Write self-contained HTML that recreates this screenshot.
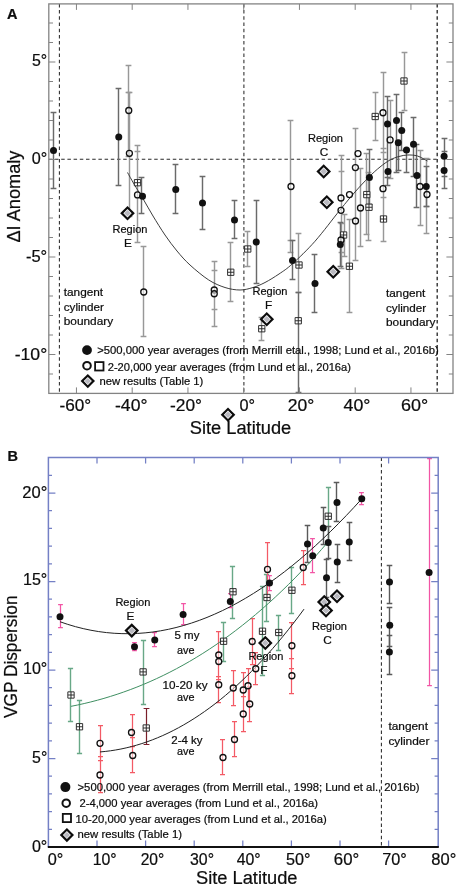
<!DOCTYPE html>
<html lang="en"><head><meta charset="utf-8"><title>Figure</title>
<style>
html,body{margin:0;padding:0;background:#fff}
svg{display:block}
text{font-family:"Liberation Sans",sans-serif;fill:#0d0d0d;stroke:#0d0d0d;stroke-width:0.22px}
</style></head><body>
<svg width="459" height="889" viewBox="0 0 459 889">
<rect width="459" height="889" fill="#fff"/>
<g id="panelA">
<path d="M59.4 3.9V393.4M243.9 3.9V393.4" stroke="#2a2a2a" stroke-width="1.05" stroke-dasharray="3.5 2.7" fill="none"/>
<path d="M437.2 3.9V393.4" stroke="#2a2a2a" stroke-width="1.35" stroke-dasharray="3.5 2.7" fill="none"/>
<path d="M48.8 159.2H437" stroke="#2a2a2a" stroke-width="1.05" stroke-dasharray="3.5 2.7" fill="none"/>
<path d="M128.5 65.5V156M125.6 65.5H131.4M125.6 156.5H131.4M125.6 92.5H131.4" stroke="#989898" stroke-width="1.45" fill="none"/>
<path d="M129.5 93V217M126.6 92.5H132.4M126.6 216.5H132.4" stroke="#989898" stroke-width="1.45" fill="none"/>
<path d="M137.5 145.6V242M134.6 145.5H140.4M134.6 242.5H140.4M134.6 151.5H140.4" stroke="#989898" stroke-width="1.45" fill="none"/>
<path d="M141.5 177.5V213.75M138.6 177.5H144.4M138.6 213.5H144.4" stroke="#6a6a6a" stroke-width="1.45" fill="none"/>
<path d="M143.5 247V336.25M140.6 246.5H146.4M140.6 336.5H146.4" stroke="#989898" stroke-width="1.45" fill="none"/>
<path d="M214.5 261.25V326.25M211.6 261.5H217.4M211.6 326.5H217.4M211.6 270.5H217.4M211.6 309.5H217.4" stroke="#989898" stroke-width="1.45" fill="none"/>
<path d="M290.5 120.5V252.5M287.6 120.5H293.4M287.6 252.5H293.4M287.6 240.5H293.4" stroke="#989898" stroke-width="1.45" fill="none"/>
<path d="M341.5 155.8V268M338.6 155.5H344.4M338.6 268.5H344.4M338.6 171.5H344.4M338.6 223.5H344.4M338.6 252.5H344.4" stroke="#989898" stroke-width="1.45" fill="none"/>
<path d="M349.5 219.6V313M346.6 219.5H352.4M346.6 312.5H352.4" stroke="#989898" stroke-width="1.45" fill="none"/>
<path d="M355.5 128.3V260.75M352.6 128.5H358.4M352.6 260.5H358.4" stroke="#989898" stroke-width="1.45" fill="none"/>
<path d="M344.5 215V256M341.6 214.5H347.4M341.6 256.5H347.4" stroke="#989898" stroke-width="1.45" fill="none"/>
<path d="M360.5 169V247M357.6 168.5H363.4M357.6 246.5H363.4" stroke="#989898" stroke-width="1.45" fill="none"/>
<path d="M366.5 153.2V235M363.6 153.5H369.4M363.6 234.5H369.4" stroke="#989898" stroke-width="1.45" fill="none"/>
<path d="M368.5 172V241M365.6 172.5H371.4M365.6 240.5H371.4" stroke="#989898" stroke-width="1.45" fill="none"/>
<path d="M383.5 73V241.25M380.6 72.5H386.4M380.6 241.5H386.4M380.6 148.5H386.4M380.6 152.5H386.4M380.6 197.5H386.4" stroke="#989898" stroke-width="1.45" fill="none"/>
<path d="M375.5 93V140M372.6 92.5H378.4M372.6 140.5H378.4" stroke="#989898" stroke-width="1.45" fill="none"/>
<path d="M390.5 100V178M387.6 100.5H393.4M387.6 178.5H393.4" stroke="#989898" stroke-width="1.45" fill="none"/>
<path d="M404.5 52V110.75M401.6 52.5H407.4M401.6 110.5H407.4" stroke="#989898" stroke-width="1.45" fill="none"/>
<path d="M420.5 150V225.75M417.6 150.5H423.4M417.6 225.5H423.4" stroke="#989898" stroke-width="1.45" fill="none"/>
<path d="M426.5 158V233.75M423.6 158.5H429.4M423.6 233.5H429.4M423.6 206.5H429.4" stroke="#989898" stroke-width="1.45" fill="none"/>
<path d="M230.5 242.5V301.75M227.6 242.5H233.4M227.6 301.5H233.4" stroke="#989898" stroke-width="1.45" fill="none"/>
<path d="M247.5 231.25V266.25M244.6 231.5H250.4M244.6 266.5H250.4" stroke="#989898" stroke-width="1.45" fill="none"/>
<path d="M261.5 317.5V340M258.6 317.5H264.4M258.6 340.5H264.4" stroke="#989898" stroke-width="1.45" fill="none"/>
<path d="M298.5 233.25V292.5M295.6 233.5H301.4M295.6 292.5H301.4" stroke="#989898" stroke-width="1.45" fill="none"/>
<path d="M298.5 292.5V393M295.6 292.5H301.4M295.6 392.5H301.4" stroke="#6a6a6a" stroke-width="1.45" fill="none"/>
<path d="M53.5 113V188M50.6 112.5H56.4M50.6 188.5H56.4" stroke="#6a6a6a" stroke-width="1.45" fill="none"/>
<path d="M118.5 88V185.75M115.6 88.5H121.4M115.6 185.5H121.4" stroke="#6a6a6a" stroke-width="1.45" fill="none"/>
<path d="M175.5 164V213.75M172.6 164.5H178.4M172.6 213.5H178.4" stroke="#6a6a6a" stroke-width="1.45" fill="none"/>
<path d="M202.5 176.25V229.5M199.6 176.5H205.4M199.6 229.5H205.4" stroke="#6a6a6a" stroke-width="1.45" fill="none"/>
<path d="M234.5 200.5V238.75M231.6 200.5H237.4M231.6 238.5H237.4" stroke="#6a6a6a" stroke-width="1.45" fill="none"/>
<path d="M256.5 200V283.75M253.6 200.5H259.4M253.6 283.5H259.4" stroke="#6a6a6a" stroke-width="1.45" fill="none"/>
<path d="M292.5 241V279.5M289.6 240.5H295.4M289.6 279.5H295.4" stroke="#6a6a6a" stroke-width="1.45" fill="none"/>
<path d="M314.5 254.5V312M311.6 254.5H317.4M311.6 312.5H317.4" stroke="#6a6a6a" stroke-width="1.45" fill="none"/>
<path d="M340.5 222V266M337.6 222.5H343.4M337.6 266.5H343.4" stroke="#6a6a6a" stroke-width="1.45" fill="none"/>
<path d="M369.5 149.7V205M366.6 149.5H372.4M366.6 204.5H372.4" stroke="#6a6a6a" stroke-width="1.45" fill="none"/>
<path d="M387.5 96.5V185.4M384.6 96.5H390.4M384.6 185.5H390.4M384.6 177.5H390.4" stroke="#6a6a6a" stroke-width="1.45" fill="none"/>
<path d="M396.5 94.5V172M393.6 94.5H399.4M393.6 172.5H399.4" stroke="#6a6a6a" stroke-width="1.45" fill="none"/>
<path d="M401.5 112V150M398.6 112.5H404.4M398.6 150.5H404.4" stroke="#6a6a6a" stroke-width="1.45" fill="none"/>
<path d="M398.5 140V170M395.6 140.5H401.4M395.6 170.5H401.4" stroke="#6a6a6a" stroke-width="1.45" fill="none"/>
<path d="M406.5 150V173M403.6 150.5H409.4M403.6 172.5H409.4" stroke="#6a6a6a" stroke-width="1.45" fill="none"/>
<path d="M413.5 117.5V176M410.6 117.5H416.4M410.6 176.5H416.4" stroke="#6a6a6a" stroke-width="1.45" fill="none"/>
<path d="M416.5 144V207.5M413.6 144.5H419.4M413.6 207.5H419.4" stroke="#6a6a6a" stroke-width="1.45" fill="none"/>
<path d="M426.5 166V207M423.6 166.5H429.4M423.6 206.5H429.4" stroke="#6a6a6a" stroke-width="1.45" fill="none"/>
<path d="M444.5 138.3V188.9M441.6 138.5H447.4M441.6 188.5H447.4M441.6 151.5H447.4M441.6 176.5H447.4" stroke="#6a6a6a" stroke-width="1.45" fill="none"/>
<path d="M127.5 172.5C128.58 174.42 131.42 179.62 134 184C136.58 188.38 139.83 193.42 143 198.75C146.17 204.08 149.33 209.96 153 216C156.67 222.04 161 229.17 165 235C169 240.83 172.83 246 177 251C181.17 256 184.71 260.17 190 265C195.29 269.83 202.92 276.25 208.75 280C214.58 283.75 219.79 285.83 225 287.5C230.21 289.17 235.33 290 240 290C244.67 290 248.83 288.75 253 287.5C257.17 286.25 260.67 284.75 265 282.5C269.33 280.25 274.42 277.12 279 274C283.58 270.88 286.5 269.21 292.5 263.75C298.5 258.29 307.08 250.21 315 241.25C322.92 232.29 333.33 218.21 340 210C346.67 201.79 350.17 197.5 355 192C359.83 186.5 364.83 181.17 369 177C373.17 172.83 376.5 169.83 380 167C383.5 164.17 386.83 161.75 390 160C393.17 158.25 396.08 157.33 399 156.5C401.92 155.67 404.42 155.08 407.5 155C410.58 154.92 414.17 155 417.5 156C420.83 157 425.83 160.17 427.5 161" fill="none" stroke="#333" stroke-width="0.95"/>
<path d="M134.35 179.55H140.65V185.85H134.35ZM137.5 179.55V185.85M134.35 182.7H140.65" fill="#fff" fill-opacity="0.85" stroke="#262626" stroke-width="0.95"/>
<path d="M227.6 269.1H233.9V275.4H227.6ZM230.75 269.1V275.4M227.6 272.25H233.9" fill="#fff" fill-opacity="0.85" stroke="#262626" stroke-width="0.95"/>
<path d="M244.6 245.85H250.9V252.15H244.6ZM247.75 245.85V252.15M244.6 249H250.9" fill="#fff" fill-opacity="0.85" stroke="#262626" stroke-width="0.95"/>
<path d="M258.6 325.6H264.9V331.9H258.6ZM261.75 325.6V331.9M258.6 328.75H264.9" fill="#fff" fill-opacity="0.85" stroke="#262626" stroke-width="0.95"/>
<path d="M295.85 261.85H302.15V268.15H295.85ZM299 261.85V268.15M295.85 265H302.15" fill="#fff" fill-opacity="0.85" stroke="#262626" stroke-width="0.95"/>
<path d="M295.1 317.6H301.4V323.9H295.1ZM298.25 317.6V323.9M295.1 320.75H301.4" fill="#fff" fill-opacity="0.85" stroke="#262626" stroke-width="0.95"/>
<path d="M340.45 231.85H346.75V238.15H340.45ZM343.6 231.85V238.15M340.45 235H346.75" fill="#fff" fill-opacity="0.85" stroke="#262626" stroke-width="0.95"/>
<path d="M346.25 263.1H352.55V269.4H346.25ZM349.4 263.1V269.4M346.25 266.25H352.55" fill="#fff" fill-opacity="0.85" stroke="#262626" stroke-width="0.95"/>
<path d="M363.65 191.45H369.95V197.75H363.65ZM366.8 191.45V197.75M363.65 194.6H369.95" fill="#fff" fill-opacity="0.85" stroke="#262626" stroke-width="0.95"/>
<path d="M365.85 204.1H372.15V210.4H365.85ZM369 204.1V210.4M365.85 207.25H372.15" fill="#fff" fill-opacity="0.85" stroke="#262626" stroke-width="0.95"/>
<path d="M380.35 215.85H386.65V222.15H380.35ZM383.5 215.85V222.15M380.35 219H386.65" fill="#fff" fill-opacity="0.85" stroke="#262626" stroke-width="0.95"/>
<path d="M372.05 113.35H378.35V119.65H372.05ZM375.2 113.35V119.65M372.05 116.5H378.35" fill="#fff" fill-opacity="0.85" stroke="#262626" stroke-width="0.95"/>
<path d="M400.85 77.85H407.15V84.15H400.85ZM404 77.85V84.15M400.85 81H407.15" fill="#fff" fill-opacity="0.85" stroke="#262626" stroke-width="0.95"/>
<circle cx="128.75" cy="110.5" r="3.0" fill="#fff" fill-opacity="0.55" stroke="#111" stroke-width="1.3"/>
<circle cx="129.4" cy="153.3" r="3.0" fill="#fff" fill-opacity="0.55" stroke="#111" stroke-width="1.3"/>
<circle cx="137.5" cy="194.9" r="3.0" fill="#fff" fill-opacity="0.55" stroke="#111" stroke-width="1.3"/>
<circle cx="143.75" cy="292" r="3.0" fill="#fff" fill-opacity="0.55" stroke="#111" stroke-width="1.3"/>
<circle cx="214.25" cy="290" r="3.0" fill="#fff" fill-opacity="0.55" stroke="#111" stroke-width="1.3"/>
<circle cx="214.25" cy="293.75" r="3.0" fill="#fff" fill-opacity="0.55" stroke="#111" stroke-width="1.3"/>
<circle cx="291" cy="186.5" r="3.0" fill="#fff" fill-opacity="0.55" stroke="#111" stroke-width="1.3"/>
<circle cx="341" cy="198" r="3.0" fill="#fff" fill-opacity="0.55" stroke="#111" stroke-width="1.3"/>
<circle cx="341" cy="210.3" r="3.0" fill="#fff" fill-opacity="0.55" stroke="#111" stroke-width="1.3"/>
<circle cx="341" cy="240" r="3.0" fill="#fff" fill-opacity="0.55" stroke="#111" stroke-width="1.3"/>
<circle cx="349.5" cy="194.6" r="3.0" fill="#fff" fill-opacity="0.55" stroke="#111" stroke-width="1.3"/>
<circle cx="355.4" cy="167.6" r="3.0" fill="#fff" fill-opacity="0.55" stroke="#111" stroke-width="1.3"/>
<circle cx="355.5" cy="221" r="3.0" fill="#fff" fill-opacity="0.55" stroke="#111" stroke-width="1.3"/>
<circle cx="358" cy="153.6" r="3.0" fill="#fff" fill-opacity="0.55" stroke="#111" stroke-width="1.3"/>
<circle cx="360.5" cy="208" r="3.0" fill="#fff" fill-opacity="0.55" stroke="#111" stroke-width="1.3"/>
<circle cx="383" cy="112.75" r="3.0" fill="#fff" fill-opacity="0.55" stroke="#111" stroke-width="1.3"/>
<circle cx="383" cy="188.7" r="3.0" fill="#fff" fill-opacity="0.55" stroke="#111" stroke-width="1.3"/>
<circle cx="390.1" cy="139.9" r="3.0" fill="#fff" fill-opacity="0.55" stroke="#111" stroke-width="1.3"/>
<circle cx="420" cy="186.5" r="3.0" fill="#fff" fill-opacity="0.55" stroke="#111" stroke-width="1.3"/>
<circle cx="427" cy="194.5" r="3.0" fill="#fff" fill-opacity="0.55" stroke="#111" stroke-width="1.3"/>
<circle cx="53.5" cy="150.5" r="3.5" fill="#111"/>
<circle cx="118.75" cy="137" r="3.5" fill="#111"/>
<circle cx="142.5" cy="196.25" r="3.5" fill="#111"/>
<circle cx="175.75" cy="189.5" r="3.5" fill="#111"/>
<circle cx="202.5" cy="203" r="3.5" fill="#111"/>
<circle cx="234.5" cy="220" r="3.5" fill="#111"/>
<circle cx="256.25" cy="242" r="3.5" fill="#111"/>
<circle cx="292.5" cy="260.5" r="3.5" fill="#111"/>
<circle cx="315" cy="283.5" r="3.5" fill="#111"/>
<circle cx="340.3" cy="244.5" r="3.5" fill="#111"/>
<circle cx="369.4" cy="177.4" r="3.5" fill="#111"/>
<circle cx="388" cy="171.6" r="3.5" fill="#111"/>
<circle cx="387.5" cy="124" r="3.5" fill="#111"/>
<circle cx="396.5" cy="120.6" r="3.5" fill="#111"/>
<circle cx="401.75" cy="130.5" r="3.5" fill="#111"/>
<circle cx="398.25" cy="142.75" r="3.5" fill="#111"/>
<circle cx="406.5" cy="150" r="3.5" fill="#111"/>
<circle cx="413.5" cy="144.25" r="3.5" fill="#111"/>
<circle cx="417" cy="175.5" r="3.5" fill="#111"/>
<circle cx="426.25" cy="186.5" r="3.5" fill="#111"/>
<circle cx="444.1" cy="156.3" r="3.5" fill="#111"/>
<circle cx="444.1" cy="170.5" r="3.5" fill="#111"/>
<path d="M127.5 205.95L134.8 213.25L127.5 220.55L120.2 213.25Z" fill="#0c0c0c"/><path d="M127.5 209.05L131.7 213.25L127.5 217.45L123.3 213.25Z" fill="#fff"/><path d="M127.5 209.95L130.8 213.25L127.5 216.55L124.2 213.25Z" fill="#b9b9c0"/>
<path d="M266.75 311.95L274.05 319.25L266.75 326.55L259.45 319.25Z" fill="#0c0c0c"/><path d="M266.75 315.05L270.95 319.25L266.75 323.45L262.55 319.25Z" fill="#fff"/><path d="M266.75 315.95L270.05 319.25L266.75 322.55L263.45 319.25Z" fill="#b9b9c0"/>
<path d="M323.7 164.2L331 171.5L323.7 178.8L316.4 171.5Z" fill="#0c0c0c"/><path d="M323.7 167.3L327.9 171.5L323.7 175.7L319.5 171.5Z" fill="#fff"/><path d="M323.7 168.2L327 171.5L323.7 174.8L320.4 171.5Z" fill="#b9b9c0"/>
<path d="M326.8 194.9L334.1 202.2L326.8 209.5L319.5 202.2Z" fill="#0c0c0c"/><path d="M326.8 198L331 202.2L326.8 206.4L322.6 202.2Z" fill="#fff"/><path d="M326.8 198.9L330.1 202.2L326.8 205.5L323.5 202.2Z" fill="#b9b9c0"/>
<path d="M333.25 264.45L340.55 271.75L333.25 279.05L325.95 271.75Z" fill="#0c0c0c"/><path d="M333.25 267.55L337.45 271.75L333.25 275.95L329.05 271.75Z" fill="#fff"/><path d="M333.25 268.45L336.55 271.75L333.25 275.05L329.95 271.75Z" fill="#b9b9c0"/>
<path d="M228 407.45L235.3 414.75L228 422.05L220.7 414.75Z" fill="#0c0c0c"/><path d="M228 410.55L232.2 414.75L228 418.95L223.8 414.75Z" fill="#fff"/><path d="M228 411.45L231.3 414.75L228 418.05L224.7 414.75Z" fill="#b9b9c0"/>
<path d="M48.8 374h4.2M453.0 374h-4.2M48.8 354.5h6.6M453.0 354.5h-6.6M48.8 335h4.2M453.0 335h-4.2M48.8 315.5h4.2M453.0 315.5h-4.2M48.8 296h4.2M453.0 296h-4.2M48.8 276.5h4.2M453.0 276.5h-4.2M48.8 257h6.6M453.0 257h-6.6M48.8 237.5h4.2M453.0 237.5h-4.2M48.8 218h4.2M453.0 218h-4.2M48.8 198.5h4.2M453.0 198.5h-4.2M48.8 179h4.2M453.0 179h-4.2M48.8 159.5h6.6M453.0 159.5h-6.6M48.8 140h4.2M453.0 140h-4.2M48.8 120.5h4.2M453.0 120.5h-4.2M48.8 101h4.2M453.0 101h-4.2M48.8 81.5h4.2M453.0 81.5h-4.2M48.8 62h6.6M453.0 62h-6.6M48.8 42.5h4.2M453.0 42.5h-4.2M48.8 23h4.2M453.0 23h-4.2M76.45 3.9v6M76.45 393.4v-6M132.2 3.9v6M132.2 393.4v-6M187.95 3.9v6M187.95 393.4v-6M243.7 3.9v6M243.7 393.4v-6M299.45 3.9v6M299.45 393.4v-6M355.2 3.9v6M355.2 393.4v-6M410.95 3.9v6M410.95 393.4v-6" stroke="#838383" stroke-width="1" fill="none"/>
<rect x="48.8" y="3.9" width="404.2" height="389.5" fill="none" stroke="#838383" stroke-width="1.3"/>
<text x="7" y="18.8" font-size="14.5" font-weight="bold">A</text>
<text x="47.2" y="66.4" font-size="17" text-anchor="end" textLength="15.2" lengthAdjust="spacingAndGlyphs">5°</text>
<text x="47.2" y="164.2" font-size="17" text-anchor="end" textLength="15.5" lengthAdjust="spacingAndGlyphs">0°</text>
<text x="47.2" y="262.3" font-size="17" text-anchor="end" textLength="21.3" lengthAdjust="spacingAndGlyphs">-5°</text>
<text x="47.2" y="360" font-size="17" text-anchor="end" textLength="32.5" lengthAdjust="spacingAndGlyphs">-10°</text>
<text x="59.5" y="410.6" font-size="17" textLength="31.75" lengthAdjust="spacingAndGlyphs">-60°</text>
<text x="115" y="410.6" font-size="17" textLength="32.5" lengthAdjust="spacingAndGlyphs">-40°</text>
<text x="170" y="410.6" font-size="17" textLength="32" lengthAdjust="spacingAndGlyphs">-20°</text>
<text x="239.4" y="410.6" font-size="17" textLength="15.6" lengthAdjust="spacingAndGlyphs">0°</text>
<text x="287.8" y="410.6" font-size="17" textLength="26.5" lengthAdjust="spacingAndGlyphs">20°</text>
<text x="343.6" y="410.6" font-size="17" textLength="26.9" lengthAdjust="spacingAndGlyphs">40°</text>
<text x="401" y="410.6" font-size="17" textLength="27.2" lengthAdjust="spacingAndGlyphs">60°</text>
<text x="189.8" y="433.7" font-size="18" textLength="101.4" lengthAdjust="spacingAndGlyphs">Site Latitude</text>
<text transform="translate(19.5 242.6) rotate(-90)" font-size="18" textLength="92" lengthAdjust="spacingAndGlyphs">ΔI Anomaly</text>
<text x="112.5" y="232.5" font-size="11.8" textLength="35" lengthAdjust="spacingAndGlyphs">Region</text>
<text x="128" y="246.8" font-size="11.8" text-anchor="middle">E</text>
<text x="308" y="141.75" font-size="11.8" textLength="35" lengthAdjust="spacingAndGlyphs">Region</text>
<text x="324" y="156.05" font-size="11.8" text-anchor="middle">C</text>
<text x="252.5" y="294.5" font-size="11.8" textLength="35" lengthAdjust="spacingAndGlyphs">Region</text>
<text x="268.5" y="308.8" font-size="11.8" text-anchor="middle">F</text>
<text x="63.75" y="296.3" font-size="11.8" textLength="39.4" lengthAdjust="spacingAndGlyphs">tangent</text>
<text x="386" y="297.4" font-size="11.8" textLength="39.4" lengthAdjust="spacingAndGlyphs">tangent</text>
<text x="63.75" y="310.65" font-size="11.8" textLength="40.2" lengthAdjust="spacingAndGlyphs">cylinder</text>
<text x="386" y="311.6" font-size="11.8" textLength="40.2" lengthAdjust="spacingAndGlyphs">cylinder</text>
<text x="63.75" y="325" font-size="11.8" textLength="49.4" lengthAdjust="spacingAndGlyphs">boundary</text>
<text x="386" y="325.8" font-size="11.8" textLength="49.4" lengthAdjust="spacingAndGlyphs">boundary</text>
<circle cx="87" cy="350.1" r="4.9" fill="#111"/>
<circle cx="87" cy="365.7" r="3.8" fill="#fff" fill-opacity="1" stroke="#111" stroke-width="2.0"/>
<rect x="95.1" y="362.1" width="8.4" height="8.4" fill="#fff" stroke="#111" stroke-width="1.8"/>
<path d="M87.8 373.9L95 381.1L87.8 388.3L80.6 381.1Z" fill="#0c0c0c"/><path d="M87.8 377L91.9 381.1L87.8 385.2L83.7 381.1Z" fill="#fff"/><path d="M87.8 377.9L91 381.1L87.8 384.3L84.6 381.1Z" fill="#b9b9c0"/>
<text x="97.2" y="354.3" font-size="11.5" textLength="341.5" lengthAdjust="spacingAndGlyphs">&gt;500,000 year averages (from Merrill etal., 1998; Lund et al., 2016b)</text>
<text x="107.7" y="370.6" font-size="11.5" textLength="243.3" lengthAdjust="spacingAndGlyphs">2-20,000 year averages (from Lund et al., 2016a)</text>
<text x="99.5" y="385" font-size="11.5" textLength="103.8" lengthAdjust="spacingAndGlyphs">new results (Table 1)</text>
</g>
<g id="panelB">
<path d="M381.4 457.6V847.0" stroke="#2a2a2a" stroke-width="1.05" stroke-dasharray="3.5 2.7" fill="none"/>
<path d="M70.5 668.5V721.25M67.9 668.5H73.1M67.9 721.5H73.1" stroke="#68a887" stroke-width="1.4" fill="none"/>
<path d="M79.5 700V753.75M76.9 700.5H82.1M76.9 753.5H82.1" stroke="#68a887" stroke-width="1.4" fill="none"/>
<path d="M143.5 640V704M140.9 640.5H146.1M140.9 704.5H146.1" stroke="#68a887" stroke-width="1.4" fill="none"/>
<path d="M223.5 622.3V661.25M220.9 622.5H226.1M220.9 661.5H226.1" stroke="#68a887" stroke-width="1.4" fill="none"/>
<path d="M232.5 566V618.75M229.9 566.5H235.1M229.9 618.5H235.1" stroke="#68a887" stroke-width="1.4" fill="none"/>
<path d="M262.5 586.25V675.5M259.9 586.5H265.1M259.9 675.5H265.1" stroke="#68a887" stroke-width="1.4" fill="none"/>
<path d="M266.5 574V621.25M263.9 574.5H269.1M263.9 621.5H269.1" stroke="#68a887" stroke-width="1.4" fill="none"/>
<path d="M278.5 615.5V650M275.9 615.5H281.1M275.9 650.5H281.1" stroke="#68a887" stroke-width="1.4" fill="none"/>
<path d="M291.5 567.75V613.5M288.9 567.5H294.1M288.9 613.5H294.1" stroke="#68a887" stroke-width="1.4" fill="none"/>
<path d="M328.5 487.5V545M325.9 487.5H331.1M325.9 544.5H331.1" stroke="#68a887" stroke-width="1.4" fill="none"/>
<path d="M146.5 708.75V744.75M143.6 708.5H149.4M143.6 744.5H149.4" stroke="#7a1f2a" stroke-width="1.2" fill="none"/>
<path d="M100.5 725.5V793M98 725.5H103M98 792.5H103M98 756.5H103M98 760.5H103" stroke="#f35a65" stroke-width="1.25" fill="none"/>
<path d="M132.5 714.5V773M130 714.5H135M130 772.5H135M130 737.5H135M130 746.5H135" stroke="#f35a65" stroke-width="1.25" fill="none"/>
<path d="M218.5 631.25V702M216 631.5H221M216 702.5H221M216 676.5H221M216 679.5H221" stroke="#f35a65" stroke-width="1.25" fill="none"/>
<path d="M222.5 739.4V775M220 739.5H225M220 774.5H225" stroke="#f35a65" stroke-width="1.25" fill="none"/>
<path d="M233.5 670V705.25M231 670.5H236M231 705.5H236" stroke="#f35a65" stroke-width="1.25" fill="none"/>
<path d="M234.5 721.25V757M232 721.5H237M232 756.5H237" stroke="#f35a65" stroke-width="1.25" fill="none"/>
<path d="M243.5 672.5V731.25M241 672.5H246M241 731.5H246M241 696.5H246" stroke="#f35a65" stroke-width="1.25" fill="none"/>
<path d="M248.5 668V704M246 668.5H251M246 704.5H251" stroke="#f35a65" stroke-width="1.25" fill="none"/>
<path d="M249.5 686V721.25M247 686.5H252M247 721.5H252" stroke="#f35a65" stroke-width="1.25" fill="none"/>
<path d="M252.5 618.75V664M250 618.5H255M250 664.5H255" stroke="#f35a65" stroke-width="1.25" fill="none"/>
<path d="M255.5 652V685M253 652.5H258M253 684.5H258" stroke="#f35a65" stroke-width="1.25" fill="none"/>
<path d="M267.5 542.3V597M265 542.5H270M265 596.5H270" stroke="#f35a65" stroke-width="1.25" fill="none"/>
<path d="M291.5 622V693.75M289 622.5H294M289 693.5H294M289 658.5H294M289 668.5H294" stroke="#f35a65" stroke-width="1.25" fill="none"/>
<path d="M303.5 550V585M301 550.5H306M301 584.5H306" stroke="#f35a65" stroke-width="1.25" fill="none"/>
<path d="M60.5 605V627.5M58.1 604.5H62.9M58.1 627.5H62.9" stroke="#f255a5" stroke-width="1.25" fill="none"/>
<path d="M134.5 642.5V650.75M132.1 642.5H136.9M132.1 650.5H136.9" stroke="#f255a5" stroke-width="1.25" fill="none"/>
<path d="M154.5 633V646.75M152.1 632.5H156.9M152.1 646.5H156.9" stroke="#f255a5" stroke-width="1.25" fill="none"/>
<path d="M183.5 603.75V624.75M181.1 603.5H185.9M181.1 624.5H185.9" stroke="#f255a5" stroke-width="1.25" fill="none"/>
<path d="M230.5 593.75V607.5M228.1 593.5H232.9M228.1 607.5H232.9" stroke="#f255a5" stroke-width="1.25" fill="none"/>
<path d="M269.5 575.75V590M267.1 575.5H271.9M267.1 590.5H271.9" stroke="#f255a5" stroke-width="1.25" fill="none"/>
<path d="M312.5 538V572.5M310.1 538.5H314.9M310.1 572.5H314.9" stroke="#f255a5" stroke-width="1.25" fill="none"/>
<path d="M361.5 492V505M359.1 492.5H363.9M359.1 504.5H363.9" stroke="#f255a5" stroke-width="1.25" fill="none"/>
<path d="M429.5 458.6V685.4M427.1 458.5H431.9M427.1 685.5H431.9" stroke="#f255a5" stroke-width="1.25" fill="none"/>
<path d="M307.5 525.3V563M304.7 525.5H310.3M304.7 562.5H310.3" stroke="#5a5a5a" stroke-width="1.4" fill="none"/>
<path d="M323.5 507.5V545M320.7 507.5H326.3M320.7 544.5H326.3" stroke="#5a5a5a" stroke-width="1.4" fill="none"/>
<path d="M328.5 527V558.75M325.7 526.5H331.3M325.7 558.5H331.3" stroke="#5a5a5a" stroke-width="1.4" fill="none"/>
<path d="M336.5 482.5V521.25M333.7 482.5H339.3M333.7 521.5H339.3" stroke="#5a5a5a" stroke-width="1.4" fill="none"/>
<path d="M337.5 545V583M334.7 544.5H340.3M334.7 582.5H340.3" stroke="#5a5a5a" stroke-width="1.4" fill="none"/>
<path d="M326.5 559.5V597.5M323.7 559.5H329.3M323.7 597.5H329.3" stroke="#5a5a5a" stroke-width="1.4" fill="none"/>
<path d="M349.5 523V560.5M346.7 522.5H352.3M346.7 560.5H352.3" stroke="#5a5a5a" stroke-width="1.4" fill="none"/>
<path d="M389.5 565.75V603.75M386.7 565.5H392.3M386.7 603.5H392.3" stroke="#5a5a5a" stroke-width="1.4" fill="none"/>
<path d="M389.5 607.6V646M386.7 607.5H392.3M386.7 646.5H392.3" stroke="#5a5a5a" stroke-width="1.4" fill="none"/>
<path d="M389.5 635.6V674.3M386.7 635.5H392.3M386.7 674.5H392.3" stroke="#5a5a5a" stroke-width="1.4" fill="none"/>
<path d="M60 621.75L67.74 624.37L75.47 626.66L83.21 628.62L90.95 630.26L98.69 631.58L106.42 632.59L114.16 633.27L121.9 633.64L129.63 633.69L137.37 633.44L145.11 632.87L152.85 632L160.58 630.82L168.32 629.33L176.06 627.54L183.79 625.45L191.53 623.07L199.27 620.39L207.01 617.41L214.74 614.14L222.48 610.58L230.22 606.72L237.96 602.59L245.69 598.16L253.43 593.46L261.17 588.47L268.9 583.2L276.64 577.65L284.38 571.83L292.12 565.74L299.85 559.37L307.59 552.73L315.33 545.82L323.06 538.65L330.8 531.21L338.54 523.51L346.28 515.55L354.01 507.33L361.75 498.85" fill="none" stroke="#222" stroke-width="1.0"/>
<path d="M71 706.34L77.59 705L84.18 703.54L90.77 701.95L97.36 700.23L103.95 698.38L110.54 696.39L117.13 694.27L123.72 692.01L130.31 689.62L136.9 687.08L143.49 684.4L150.08 681.57L156.67 678.59L163.26 675.46L169.85 672.18L176.44 668.74L183.03 665.15L189.62 661.4L196.21 657.49L202.79 653.41L209.38 649.16L215.97 644.75L222.56 640.17L229.15 635.42L235.74 630.49L242.33 625.38L248.92 620.1L255.51 614.63L262.1 608.99L268.69 603.15L275.28 597.13L281.87 590.92L288.46 584.51L295.05 577.92L301.64 571.12L308.23 564.13L314.82 556.94L321.41 549.54L328 541.94" fill="none" stroke="#3f8f62" stroke-width="1.0"/>
<path d="M100 751.95L105.23 751.45L110.46 750.79L115.69 749.98L120.92 749.02L126.15 747.89L131.38 746.61L136.62 745.17L141.85 743.57L147.08 741.8L152.31 739.88L157.54 737.79L162.77 735.54L168 733.12L173.23 730.54L178.46 727.78L183.69 724.87L188.92 721.78L194.15 718.52L199.38 715.09L204.62 711.49L209.85 707.72L215.08 703.77L220.31 699.65L225.54 695.35L230.77 690.87L236 686.22L241.23 681.39L246.46 676.38L251.69 671.19L256.92 665.82L262.15 660.26L267.38 654.52L272.62 648.6L277.85 642.49L283.08 636.2L288.31 629.72L293.54 623.05L298.77 616.19L304 609.14" fill="none" stroke="#222" stroke-width="1.0"/>
<path d="M67.85 691.85H74.15V698.15H67.85ZM71 691.85V698.15M67.85 695H74.15" fill="#fff" fill-opacity="0.85" stroke="#262626" stroke-width="0.95"/>
<path d="M76.35 723.6H82.65V729.9H76.35ZM79.5 723.6V729.9M76.35 726.75H82.65" fill="#fff" fill-opacity="0.85" stroke="#262626" stroke-width="0.95"/>
<path d="M139.95 668.75H146.25V675.05H139.95ZM143.1 668.75V675.05M139.95 671.9H146.25" fill="#fff" fill-opacity="0.85" stroke="#262626" stroke-width="0.95"/>
<path d="M143.1 724.85H149.4V731.15H143.1ZM146.25 724.85V731.15M143.1 728H149.4" fill="#fff" fill-opacity="0.85" stroke="#262626" stroke-width="0.95"/>
<path d="M220.45 638.1H226.75V644.4H220.45ZM223.6 638.1V644.4M220.45 641.25H226.75" fill="#fff" fill-opacity="0.85" stroke="#262626" stroke-width="0.95"/>
<path d="M229.85 588.6H236.15V594.9H229.85ZM233 588.6V594.9M229.85 591.75H236.15" fill="#fff" fill-opacity="0.85" stroke="#262626" stroke-width="0.95"/>
<path d="M259.35 628.1H265.65V634.4H259.35ZM262.5 628.1V634.4M259.35 631.25H265.65" fill="#fff" fill-opacity="0.85" stroke="#262626" stroke-width="0.95"/>
<path d="M263.85 594.35H270.15V600.65H263.85ZM267 594.35V600.65M263.85 597.5H270.15" fill="#fff" fill-opacity="0.85" stroke="#262626" stroke-width="0.95"/>
<path d="M275.6 629.35H281.9V635.65H275.6ZM278.75 629.35V635.65M275.6 632.5H281.9" fill="#fff" fill-opacity="0.85" stroke="#262626" stroke-width="0.95"/>
<path d="M288.75 587.1H295.05V593.4H288.75ZM291.9 587.1V593.4M288.75 590.25H295.05" fill="#fff" fill-opacity="0.85" stroke="#262626" stroke-width="0.95"/>
<path d="M325.1 513.1H331.4V519.4H325.1ZM328.25 513.1V519.4M325.1 516.25H331.4" fill="#fff" fill-opacity="0.85" stroke="#262626" stroke-width="0.95"/>
<circle cx="100" cy="743.3" r="3.0" fill="#fff" fill-opacity="0.55" stroke="#111" stroke-width="1.3"/>
<circle cx="100" cy="775" r="3.0" fill="#fff" fill-opacity="0.55" stroke="#111" stroke-width="1.3"/>
<circle cx="131.5" cy="732.5" r="3.0" fill="#fff" fill-opacity="0.55" stroke="#111" stroke-width="1.3"/>
<circle cx="132.75" cy="755.5" r="3.0" fill="#fff" fill-opacity="0.55" stroke="#111" stroke-width="1.3"/>
<circle cx="218.75" cy="655" r="3.0" fill="#fff" fill-opacity="0.55" stroke="#111" stroke-width="1.3"/>
<circle cx="218.75" cy="661.5" r="3.0" fill="#fff" fill-opacity="0.55" stroke="#111" stroke-width="1.3"/>
<circle cx="218.75" cy="684.75" r="3.0" fill="#fff" fill-opacity="0.55" stroke="#111" stroke-width="1.3"/>
<circle cx="223" cy="757.5" r="3.0" fill="#fff" fill-opacity="0.55" stroke="#111" stroke-width="1.3"/>
<circle cx="233.25" cy="688" r="3.0" fill="#fff" fill-opacity="0.55" stroke="#111" stroke-width="1.3"/>
<circle cx="234.5" cy="739.5" r="3.0" fill="#fff" fill-opacity="0.55" stroke="#111" stroke-width="1.3"/>
<circle cx="243.25" cy="690" r="3.0" fill="#fff" fill-opacity="0.55" stroke="#111" stroke-width="1.3"/>
<circle cx="243.25" cy="714" r="3.0" fill="#fff" fill-opacity="0.55" stroke="#111" stroke-width="1.3"/>
<circle cx="248" cy="685.75" r="3.0" fill="#fff" fill-opacity="0.55" stroke="#111" stroke-width="1.3"/>
<circle cx="249.75" cy="704" r="3.0" fill="#fff" fill-opacity="0.55" stroke="#111" stroke-width="1.3"/>
<circle cx="252.25" cy="641.5" r="3.0" fill="#fff" fill-opacity="0.55" stroke="#111" stroke-width="1.3"/>
<circle cx="255.75" cy="668.75" r="3.0" fill="#fff" fill-opacity="0.55" stroke="#111" stroke-width="1.3"/>
<circle cx="267.5" cy="569.4" r="3.0" fill="#fff" fill-opacity="0.55" stroke="#111" stroke-width="1.3"/>
<circle cx="291.9" cy="645.75" r="3.0" fill="#fff" fill-opacity="0.55" stroke="#111" stroke-width="1.3"/>
<circle cx="291.9" cy="675.75" r="3.0" fill="#fff" fill-opacity="0.55" stroke="#111" stroke-width="1.3"/>
<circle cx="303.25" cy="567.5" r="3.0" fill="#fff" fill-opacity="0.55" stroke="#111" stroke-width="1.3"/>
<circle cx="60" cy="616.75" r="3.5" fill="#111"/>
<circle cx="134.5" cy="646.75" r="3.5" fill="#111"/>
<circle cx="154.75" cy="639.9" r="3.5" fill="#111"/>
<circle cx="183.1" cy="614.5" r="3.5" fill="#111"/>
<circle cx="230.3" cy="601.5" r="3.5" fill="#111"/>
<circle cx="269.5" cy="583" r="3.5" fill="#111"/>
<circle cx="307.5" cy="544.1" r="3.5" fill="#111"/>
<circle cx="312.7" cy="555.7" r="3.5" fill="#111"/>
<circle cx="323.25" cy="528" r="3.5" fill="#111"/>
<circle cx="328.25" cy="542.5" r="3.5" fill="#111"/>
<circle cx="337" cy="502.5" r="3.5" fill="#111"/>
<circle cx="337.25" cy="562" r="3.5" fill="#111"/>
<circle cx="326.5" cy="577.75" r="3.5" fill="#111"/>
<circle cx="349.25" cy="542" r="3.5" fill="#111"/>
<circle cx="361.75" cy="498.75" r="3.5" fill="#111"/>
<circle cx="389.5" cy="582" r="3.5" fill="#111"/>
<circle cx="389.75" cy="625.3" r="3.5" fill="#111"/>
<circle cx="389.4" cy="652" r="3.5" fill="#111"/>
<circle cx="429.1" cy="572.5" r="3.5" fill="#111"/>
<path d="M131.75 623.3L139.05 630.6L131.75 637.9L124.45 630.6Z" fill="#0c0c0c"/><path d="M131.75 626.4L135.95 630.6L131.75 634.8L127.55 630.6Z" fill="#fff"/><path d="M131.75 627.3L135.05 630.6L131.75 633.9L128.45 630.6Z" fill="#b9b9c0"/>
<path d="M265.3 635.7L272.6 643L265.3 650.3L258 643Z" fill="#0c0c0c"/><path d="M265.3 638.8L269.5 643L265.3 647.2L261.1 643Z" fill="#fff"/><path d="M265.3 639.7L268.6 643L265.3 646.3L262 643Z" fill="#b9b9c0"/>
<path d="M337 588.95L344.3 596.25L337 603.55L329.7 596.25Z" fill="#0c0c0c"/><path d="M337 592.05L341.2 596.25L337 600.45L332.8 596.25Z" fill="#fff"/><path d="M337 592.95L340.3 596.25L337 599.55L333.7 596.25Z" fill="#b9b9c0"/>
<path d="M324.25 594.7L331.55 602L324.25 609.3L316.95 602Z" fill="#0c0c0c"/><path d="M324.25 597.8L328.45 602L324.25 606.2L320.05 602Z" fill="#fff"/><path d="M324.25 598.7L327.55 602L324.25 605.3L320.95 602Z" fill="#b9b9c0"/>
<path d="M326 603.2L333.3 610.5L326 617.8L318.7 610.5Z" fill="#0c0c0c"/><path d="M326 606.3L330.2 610.5L326 614.7L321.8 610.5Z" fill="#fff"/><path d="M326 607.2L329.3 610.5L326 613.8L322.7 610.5Z" fill="#b9b9c0"/>
<path d="M48.4 829.3h3.6M438.2 829.3h-3.6M48.4 811.6h3.6M438.2 811.6h-3.6M48.4 793.9h3.6M438.2 793.9h-3.6M48.4 776.2h3.6M438.2 776.2h-3.6M48.4 758.5h7M438.2 758.5h-7M48.4 740.8h3.6M438.2 740.8h-3.6M48.4 723.1h3.6M438.2 723.1h-3.6M48.4 705.4h3.6M438.2 705.4h-3.6M48.4 687.7h3.6M438.2 687.7h-3.6M48.4 670h7M438.2 670h-7M48.4 652.3h3.6M438.2 652.3h-3.6M48.4 634.6h3.6M438.2 634.6h-3.6M48.4 616.9h3.6M438.2 616.9h-3.6M48.4 599.2h3.6M438.2 599.2h-3.6M48.4 581.5h7M438.2 581.5h-7M48.4 563.8h3.6M438.2 563.8h-3.6M48.4 546.1h3.6M438.2 546.1h-3.6M48.4 528.4h3.6M438.2 528.4h-3.6M48.4 510.7h3.6M438.2 510.7h-3.6M48.4 493h7M438.2 493h-7M48.4 475.3h3.6M438.2 475.3h-3.6M97 457.6v6M97 847.0v-6.5M145.6 457.6v6M145.6 847.0v-6.5M194.2 457.6v6M194.2 847.0v-6.5M242.8 457.6v6M242.8 847.0v-6.5M291.4 457.6v6M291.4 847.0v-6.5M340 457.6v6M340 847.0v-6.5M388.6 457.6v6M388.6 847.0v-6.5" stroke="#7480c5" stroke-width="1.25" fill="none"/>
<path d="M48.4 847.0V457.6H438.2V847.0" fill="none" stroke="#7480c5" stroke-width="1.5"/>
<path d="M47.8 847.0H438.8" stroke="#111" stroke-width="2"/>
<text x="7.5" y="461.3" font-size="14.5" font-weight="bold">B</text>
<text x="47.3" y="498.3" font-size="17" text-anchor="end" textLength="25" lengthAdjust="spacingAndGlyphs">20°</text>
<text x="47.3" y="585.3" font-size="17" text-anchor="end" textLength="24.3" lengthAdjust="spacingAndGlyphs">15°</text>
<text x="47.3" y="674" font-size="17" text-anchor="end" textLength="24.3" lengthAdjust="spacingAndGlyphs">10°</text>
<text x="47.3" y="763" font-size="17" text-anchor="end" textLength="15.2" lengthAdjust="spacingAndGlyphs">5°</text>
<text x="47.3" y="851.7" font-size="17" text-anchor="end" textLength="15.4" lengthAdjust="spacingAndGlyphs">0°</text>
<text x="47.7" y="864.6" font-size="17" textLength="15.6" lengthAdjust="spacingAndGlyphs">0°</text>
<text x="92.7" y="864.6" font-size="17" textLength="24" lengthAdjust="spacingAndGlyphs">10°</text>
<text x="140.7" y="864.6" font-size="17" textLength="23.6" lengthAdjust="spacingAndGlyphs">20°</text>
<text x="190" y="864.6" font-size="17" textLength="24" lengthAdjust="spacingAndGlyphs">30°</text>
<text x="236.7" y="864.6" font-size="17" textLength="24" lengthAdjust="spacingAndGlyphs">40°</text>
<text x="285.9" y="864.6" font-size="17" textLength="24.5" lengthAdjust="spacingAndGlyphs">50°</text>
<text x="333.8" y="864.6" font-size="17" textLength="25.4" lengthAdjust="spacingAndGlyphs">60°</text>
<text x="382.2" y="864.6" font-size="17" textLength="24.6" lengthAdjust="spacingAndGlyphs">70°</text>
<text x="431.3" y="864.6" font-size="17" textLength="25" lengthAdjust="spacingAndGlyphs">80°</text>
<text x="196" y="884.3" font-size="18" textLength="101.5" lengthAdjust="spacingAndGlyphs">Site Latitude</text>
<text transform="translate(16.6 718) rotate(-90)" font-size="18" textLength="122.5" lengthAdjust="spacingAndGlyphs">VGP Dispersion</text>
<text x="115.4" y="605.5" font-size="11.8" textLength="35" lengthAdjust="spacingAndGlyphs">Region</text>
<text x="130.5" y="619.8" font-size="11.8" text-anchor="middle">E</text>
<text x="312" y="629.5" font-size="11.8" textLength="35" lengthAdjust="spacingAndGlyphs">Region</text>
<text x="327.5" y="643.8" font-size="11.8" text-anchor="middle">C</text>
<text x="248.4" y="659.5" font-size="11.8" textLength="35" lengthAdjust="spacingAndGlyphs">Region</text>
<text x="263.75" y="673.8" font-size="11.8" text-anchor="middle">F</text>
<text x="174.5" y="638.75" font-size="11.8" textLength="25" lengthAdjust="spacingAndGlyphs">5 my</text>
<text x="177" y="653.5" font-size="11.8" textLength="17.5" lengthAdjust="spacingAndGlyphs">ave</text>
<text x="162.5" y="688.75" font-size="11.8" textLength="45" lengthAdjust="spacingAndGlyphs">10-20 ky</text>
<text x="177" y="700.5" font-size="11.8" textLength="17.5" lengthAdjust="spacingAndGlyphs">ave</text>
<text x="171.25" y="743.75" font-size="11.8" textLength="31.25" lengthAdjust="spacingAndGlyphs">2-4 ky</text>
<text x="177" y="755" font-size="11.8" textLength="17.5" lengthAdjust="spacingAndGlyphs">ave</text>
<text x="388.4" y="730" font-size="11.8" textLength="39.6" lengthAdjust="spacingAndGlyphs">tangent</text>
<text x="388.4" y="744.5" font-size="11.8" textLength="41" lengthAdjust="spacingAndGlyphs">cylinder</text>
<circle cx="65.4" cy="787.1" r="5.0" fill="#111"/>
<circle cx="66.2" cy="803.2" r="3.75" fill="#fff" fill-opacity="1" stroke="#111" stroke-width="2.0"/>
<rect x="62.8" y="813.9" width="8.2" height="8.2" fill="#fff" stroke="#111" stroke-width="1.8"/>
<path d="M66.9 828L74 835.1L66.9 842.2L59.8 835.1Z" fill="#0c0c0c"/><path d="M66.9 831.1L70.9 835.1L66.9 839.1L62.9 835.1Z" fill="#fff"/><path d="M66.9 832L70 835.1L66.9 838.2L63.8 835.1Z" fill="#b9b9c0"/>
<text x="77.5" y="790.7" font-size="11.5" textLength="342" lengthAdjust="spacingAndGlyphs">&gt;500,000 year averages (from Merrill etal., 1998; Lund et al., 2016b)</text>
<text x="79.5" y="807" font-size="11.5" textLength="238.5" lengthAdjust="spacingAndGlyphs">2-4,000 year averages (from Lund et al., 2016a)</text>
<text x="75.5" y="823" font-size="11.5" textLength="251.3" lengthAdjust="spacingAndGlyphs">10-20,000 year averages (from Lund et al., 2016a)</text>
<text x="77.5" y="838.3" font-size="11.5" textLength="104.5" lengthAdjust="spacingAndGlyphs">new results (Table 1)</text>
</g>
</svg>
</body></html>
